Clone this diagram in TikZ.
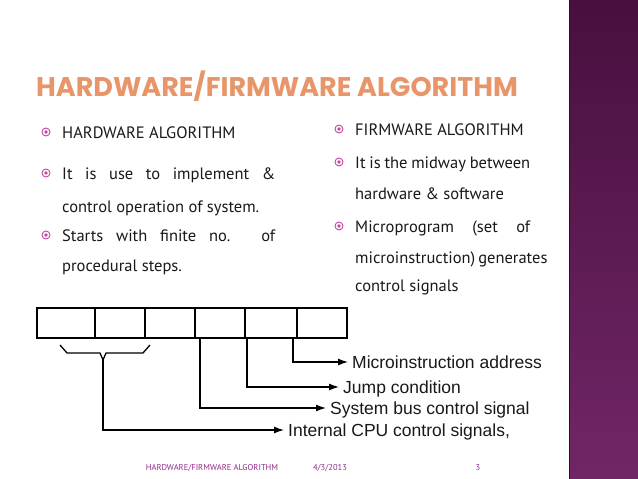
\documentclass[tikz,border=0pt]{standalone}
\usepackage{fontspec}
\setmainfont{PT Sans}
\newfontfamily\arialf{Liberation Sans}
\newfontfamily\titlef{Poppins}
\usetikzlibrary{arrows.meta}
\definecolor{bandtop}{RGB}{72,16,62}
\definecolor{bandbot}{RGB}{112,38,102}
\definecolor{bulc}{RGB}{200,70,160}
\definecolor{titlec}{RGB}{232,150,105}
\definecolor{footc}{RGB}{150,40,140}
\begin{document}
\begin{tikzpicture}[x=1pt,y=-1pt,
  txt/.style={anchor=base west,inner sep=0pt,font=\fontsize{16.5}{18}\selectfont,text=black!90},
  bul/.style={circle,draw=bulc,line width=0.9pt,minimum size=8pt,inner sep=0pt,path picture={\fill[bulc] (path picture bounding box.center) circle (1.8pt);}},
  lab/.style={anchor=base west,inner sep=0pt,font=\arialf\fontsize{17.5}{19}\selectfont,text=black!90},
  wire/.style={line width=1.3pt},
  arr/.style={line width=1.3pt,-{Latex[length=10pt,width=7pt]}},
  foot/.style={inner sep=0pt,font=\fontsize{8.5}{10}\selectfont,text=footc}]
\useasboundingbox (0,0) rectangle (638,479);
\fill[white] (0,0) rectangle (638,479);
\shade[top color=bandtop,bottom color=bandbot] (569,0) rectangle (638,479);
\draw[bandtop!70!black,line width=1pt] (569.5,0) -- (569.5,479);
% title
\node[inner sep=0pt,anchor=base west,font=\titlef\bfseries\fontsize{27}{30}\selectfont,text=titlec] (title) at (36,96)
 {HARDWARE/FIRMWARE ALGORITHM};
% left column
\node[bul] (b1) at (46,132) {};
\node[txt] (l1) at (62,138) {HARDWARE ALGORITHM};
\node[bul] (b2) at (46,173) {};
\node[txt] (l2) at (62,179) {\makebox[213pt][s]{It is use to implement \&}};
\node[txt] (l3) at (62,212) {control operation of system.};
\node[bul] (b3) at (46,235) {};
\node[txt] (l4) at (62,241) {\makebox[213pt][s]{Starts with finite no. of}};
\node[txt] (l5) at (62,271) {procedural steps.};
% right column
\node[bul] (b4) at (339,129) {};
\node[txt] (r1) at (355,135) {FIRMWARE ALGORITHM};
\node[bul] (b5) at (339,162) {};
\node[txt] (r2) at (355,168) {\makebox[175pt][s]{It is the midway between}};
\node[txt] (r3) at (355,199) {hardware \& software};
\node[bul] (b6) at (339,226) {};
\node[txt] (r4) at (355,232) {\makebox[175pt][s]{Microprogram (set of}};
\node[txt] (r5) at (355,263) {\makebox[175pt][s]{microinstruction) generates}};
\node[txt] (r6) at (355,291) {control signals};
% diagram
\draw[wire] (37,308) rectangle (347,338);
\foreach \x in {95,145,195,245,297} \draw[wire] (\x,308) -- (\x,338);
\coordinate (y) at (103,360);
\draw[wire] (60,345) -- (67,353) -- (100,353) -- (y) -- (106,353) -- (143,353) -- (150,345);
\node[lab] (t4) at (288,436) {Internal CPU control signals,};
\node[lab] (t3) at (330,414) {System bus control signal};
\node[lab] (t2) at (343,393) {Jump condition};
\node[lab] (t1) at (352,368) {Microinstruction address};
\draw[arr] (y) |- ([xshift=-4pt]t4.west |- 0,430);
\draw[arr] (200,338) |- ([xshift=-4pt]t3.west |- 0,408);
\draw[arr] (247,338) |- ([xshift=-4pt]t2.west |- 0,387);
\draw[arr] (293,338) |- ([xshift=-4pt]t1.west |- 0,362);
% footer
\node[foot] (f1) at (212,468) {HARDWARE/FIRMWARE ALGORITHM};
\node[foot] (f2) at (330,468) {4/3/2013};
\node[foot] (f3) at (478,468) {3};
\end{tikzpicture}
\end{document}
